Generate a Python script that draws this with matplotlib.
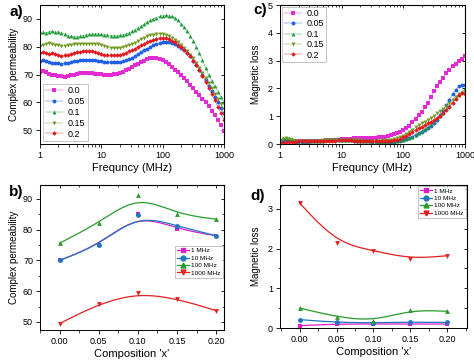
import numpy as np
import matplotlib
matplotlib.use('Agg')
import matplotlib.pyplot as plt
from matplotlib.ticker import MultipleLocator, NullFormatter, FormatStrFormatter

plt.rcParams['font.family'] = ['Liberation Sans', 'DejaVu Sans']

# frequency sweep (MHz), 20 points per decade
freq = 10 ** (np.arange(61) / 20)

# a) complex permeability vs frequency
perm_00 = [71.0, 71.2, 70.8, 70.2, 69.8, 69.7, 69.6, 69.3, 69.0, 69.6,
           69.8, 70.0, 70.2, 70.4, 70.5, 70.5, 70.5, 70.4, 70.3, 70.2,
           70.1, 70.0, 70.0, 70.0, 70.1, 70.3, 70.6, 71.0, 71.5, 72.1,
           72.7, 73.3, 73.9, 74.5, 75.0, 75.5, 75.9, 76.1, 76.0, 75.7,
           75.2, 74.5, 73.7, 72.8, 71.8, 70.8, 69.7, 68.6, 67.5, 66.3,
           65.0, 63.8, 62.6, 61.3, 60.0, 58.6, 57.0, 55.3, 53.6, 51.7, 49.8]
perm_005 = [75.0, 75.2, 74.8, 74.5, 74.3, 74.2, 74.0, 73.9, 74.0, 74.2,
            74.5, 74.8, 75.0, 75.2, 75.3, 75.3, 75.3, 75.3, 75.1, 74.9,
            74.7, 74.5, 74.4, 74.4, 74.4, 74.5, 74.6, 74.8, 75.1, 75.5,
            76.0, 76.6, 77.3, 78.0, 78.7, 79.3, 79.9, 80.5, 81.0, 81.4,
            81.7, 81.8, 81.7, 81.4, 80.9, 80.3, 79.6, 78.7, 77.7, 76.6,
            75.0, 73.4, 71.7, 69.9, 68.0, 66.0, 64.0, 62.0, 60.0, 58.0, 56.0]
perm_01 = [85.2, 85.3, 85.0, 85.4, 85.6, 85.2, 85.4, 85.0, 84.5, 84.0,
           83.7, 83.5, 83.6, 83.8, 84.0, 84.3, 84.5, 84.6, 84.6, 84.6,
           84.5, 84.4, 84.2, 84.0, 84.0, 84.0, 84.1, 84.3, 84.6, 85.0,
           85.5, 86.1, 86.8, 87.5, 88.2, 88.9, 89.5, 90.0, 90.5, 90.9,
           91.2, 91.3, 91.2, 90.9, 90.4, 89.5, 88.3, 87.0, 85.5, 83.9,
           82.1, 80.0, 77.7, 75.2, 72.5, 70.0, 67.8, 65.8, 63.9, 62.0, 60.0]
perm_015 = [80.3, 80.6, 81.0, 81.3, 81.0, 80.7, 80.5, 80.3, 80.3, 80.5,
            80.7, 80.9, 81.0, 81.1, 81.1, 81.1, 81.1, 81.1, 81.0, 81.0,
            80.8, 80.4, 80.0, 79.7, 79.5, 79.5, 79.6, 79.8, 80.1, 80.5,
            81.0, 81.5, 82.1, 82.7, 83.2, 83.7, 84.1, 84.4, 84.6, 84.7,
            84.6, 84.3, 83.9, 83.3, 82.6, 81.7, 80.7, 79.6, 78.4, 77.1,
            75.8, 74.2, 72.5, 70.7, 68.8, 66.9, 65.0, 63.1, 61.2, 59.4, 57.6]
perm_02 = [77.8, 78.0, 77.8, 77.5, 77.6, 77.3, 77.0, 76.8, 76.9, 77.2,
           77.5, 77.8, 78.0, 78.2, 78.3, 78.4, 78.4, 78.3, 78.1, 77.8,
           77.5, 77.2, 77.0, 76.9, 76.9, 77.0, 77.2, 77.5, 77.9, 78.3,
           78.8, 79.3, 79.9, 80.5, 81.1, 81.7, 82.2, 82.6, 82.9, 83.1,
           83.1, 83.0, 82.7, 82.2, 81.6, 80.8, 79.9, 78.9, 77.8, 76.6,
           75.0, 73.4, 71.6, 69.6, 67.4, 65.2, 63.0, 60.7, 58.5, 56.2, 53.8]

# c) magnetic loss vs frequency
loss_00 = [0.08, 0.1, 0.1, 0.1, 0.1, 0.1, 0.1, 0.1, 0.1, 0.1,
           0.1, 0.11, 0.11, 0.12, 0.12, 0.13, 0.14, 0.15, 0.15, 0.16,
           0.17, 0.18, 0.18, 0.19, 0.2, 0.2, 0.21, 0.21, 0.22, 0.22,
           0.22, 0.23, 0.24, 0.25, 0.27, 0.29, 0.32, 0.35, 0.38, 0.43,
           0.49, 0.57, 0.66, 0.78, 0.91, 1.05, 1.17, 1.32, 1.47, 1.7,
           1.9, 2.07, 2.23, 2.39, 2.54, 2.67, 2.79, 2.89, 2.98, 3.07, 3.15]
loss_005 = [0.12, 0.15, 0.14, 0.12, 0.1, 0.09, 0.08, 0.08, 0.08, 0.09,
            0.1, 0.1, 0.11, 0.12, 0.12, 0.13, 0.13, 0.14, 0.14, 0.14,
            0.14, 0.14, 0.13, 0.13, 0.12, 0.12, 0.11, 0.11, 0.1, 0.1,
            0.09, 0.09, 0.08, 0.08, 0.08, 0.08, 0.09, 0.09, 0.1, 0.12,
            0.15, 0.18, 0.22, 0.27, 0.32, 0.38, 0.44, 0.51, 0.58, 0.66,
            0.76, 0.88, 1.03, 1.2, 1.4, 1.6, 1.8, 1.96, 2.08, 2.13, 2.13]
loss_01 = [0.15, 0.2, 0.22, 0.2, 0.18, 0.15, 0.12, 0.1, 0.1, 0.1,
           0.1, 0.1, 0.11, 0.12, 0.12, 0.13, 0.14, 0.14, 0.15, 0.15,
           0.15, 0.15, 0.14, 0.14, 0.13, 0.12, 0.12, 0.11, 0.1, 0.1,
           0.1, 0.09, 0.09, 0.09, 0.09, 0.09, 0.1, 0.1, 0.11, 0.13,
           0.15, 0.18, 0.22, 0.27, 0.33, 0.4, 0.47, 0.55, 0.63, 0.72,
           0.82, 0.92, 1.02, 1.13, 1.25, 1.38, 1.52, 1.65, 1.78, 1.88, 1.97]
loss_015 = [0.12, 0.18, 0.2, 0.18, 0.15, 0.12, 0.1, 0.1, 0.1, 0.1,
            0.11, 0.11, 0.12, 0.12, 0.13, 0.13, 0.14, 0.14, 0.15, 0.15,
            0.15, 0.15, 0.15, 0.14, 0.14, 0.13, 0.13, 0.12, 0.12, 0.12,
            0.12, 0.12, 0.12, 0.13, 0.13, 0.14, 0.16, 0.18, 0.21, 0.25,
            0.3, 0.37, 0.44, 0.52, 0.6, 0.67, 0.74, 0.81, 0.88, 0.95,
            1.02, 1.1, 1.18, 1.27, 1.37, 1.48, 1.6, 1.71, 1.8, 1.84, 1.82]
loss_02 = [0.05, 0.05, 0.06, 0.07, 0.08, 0.09, 0.1, 0.1, 0.1, 0.1,
           0.1, 0.1, 0.1, 0.1, 0.11, 0.11, 0.12, 0.12, 0.12, 0.13,
           0.13, 0.13, 0.13, 0.13, 0.12, 0.12, 0.12, 0.11, 0.11, 0.11,
           0.1, 0.1, 0.1, 0.1, 0.1, 0.11, 0.12, 0.13, 0.15, 0.19,
           0.25, 0.3, 0.36, 0.43, 0.5, 0.57, 0.63, 0.69, 0.75, 0.81,
           0.87, 0.94, 1.02, 1.12, 1.23, 1.35, 1.48, 1.62, 1.75, 1.83, 1.8]

# b) / d) values vs composition
comp = [0.00, 0.05, 0.10, 0.15, 0.20]
perm_1 = [70.0, 75.0, 85.1, 80.2, 78.0]
perm_10 = [70.0, 74.9, 84.9, 81.2, 78.0]
perm_100 = [75.6, 82.1, 91.3, 85.0, 83.4]
perm_1000 = [49.5, 55.9, 59.4, 57.6, 53.7]
loss_1 = [0.06, 0.10, 0.10, 0.10, 0.10]
loss_10 = [0.21, 0.14, 0.13, 0.15, 0.14]
loss_100 = [0.50, 0.28, 0.17, 0.46, 0.42]
loss_1000 = [3.14, 2.14, 1.95, 1.74, 1.82]

comp_labels = ['0.0', '0.05', '0.1', '0.15', '0.2']
freq_labels = ['1 MHz', '10 MHz', '100 MHz', '1000 MHz']

col_a = ['#e22bd2', '#1d5fe6', '#1f9a3a', '#6f9a1f', '#e8141c']
mk_a = ['s', 'o', '^', 'v', 'D']
col_b = ['#d81fc8', '#1f77bf', '#2a9a2a', '#e32020']
mk_b = ['s', 'o', '^', 'v']


def bspline(xs, ys, n=40):
    # smooth cubic B-spline through end points, data used as control points
    px = np.r_[xs[0], xs[0], xs, xs[-1], xs[-1]]
    py = np.r_[ys[0], ys[0], ys, ys[-1], ys[-1]]
    t = np.linspace(0, 1, n)
    b0 = (1 - t) ** 3 / 6
    b1 = (3 * t ** 3 - 6 * t ** 2 + 4) / 6
    b2 = (-3 * t ** 3 + 3 * t ** 2 + 3 * t + 1) / 6
    b3 = t ** 3 / 6
    cx, cy = [], []
    for i in range(len(px) - 3):
        cx.append(b0 * px[i] + b1 * px[i + 1] + b2 * px[i + 2] + b3 * px[i + 3])
        cy.append(b0 * py[i] + b1 * py[i + 1] + b2 * py[i + 2] + b3 * py[i + 3])
    return np.concatenate(cx), np.concatenate(cy)


def style_axes(ax):
    ax.tick_params(which='both', direction='out', top=False, right=False, labelsize=6.5, pad=2)
    ax.tick_params(which='major', length=3, width=0.6)
    ax.tick_params(which='minor', length=1.8, width=0.5)
    for s in ax.spines.values():
        s.set_linewidth(0.7)
    # mirrored inward ticks on top / right
    sec_x = ax.secondary_xaxis('top')
    sec_y = ax.secondary_yaxis('right')
    for sec in (sec_x, sec_y):
        sec.tick_params(which='both', direction='in', labelsize=0)
        sec.tick_params(which='major', length=2.5, width=0.6)
        sec.tick_params(which='minor', length=1.5, width=0.5)
    return sec_x, sec_y


def small_legend(ax, fs, **kw):
    leg = ax.legend(fontsize=fs, frameon=True, fancybox=False, edgecolor='#999999', **kw)
    leg.get_frame().set_linewidth(0.5)


fig = plt.figure(figsize=(4.74, 3.61), dpi=100)
ax_a = fig.add_axes([0.0844, 0.601, 0.388, 0.385])
ax_c = fig.add_axes([0.5907, 0.601, 0.390, 0.385])
ax_b = fig.add_axes([0.0844, 0.0859, 0.388, 0.4017])
ax_d = fig.add_axes([0.5907, 0.0914, 0.3945, 0.396])

log_minor = [m * 10 ** e for e in range(3) for m in range(2, 10)]

# panel a
for ys, c, m, lab in zip([perm_00, perm_005, perm_01, perm_015, perm_02], col_a, mk_a, comp_labels):
    ax_a.plot(freq, ys, color=c, marker=m, ms=2.8 if m != 'D' else 2.3, lw=0.3,
              markeredgewidth=0, label=lab)
ax_a.set_xscale('log')
ax_a.set_xlim(1, 1000)
ax_a.set_ylim(45, 95)
ax_a.yaxis.set_major_locator(MultipleLocator(10))
ax_a.set_xticks([1, 10, 100, 1000])
ax_a.set_xticklabels(['1', '10', '100', '1000'])
ax_a.set_xlabel('Frequncy (MHz)', fontsize=8, labelpad=2)
ax_a.set_ylabel('Complex permeability', fontsize=7, labelpad=3)
small_legend(ax_a, 6.5, loc='lower left', handlelength=2.0, handletextpad=0.5,
             labelspacing=0.2, borderpad=0.3, borderaxespad=0.3)

# panel c
for ys, c, m, lab in zip([loss_00, loss_005, loss_01, loss_015, loss_02], col_a, mk_a, comp_labels):
    ax_c.plot(freq, ys, color=c, marker=m, ms=2.8 if m != 'D' else 2.3, lw=0.3,
              markeredgewidth=0, label=lab)
ax_c.set_xscale('log')
ax_c.set_xlim(1, 1000)
ax_c.set_ylim(0, 5)
ax_c.yaxis.set_major_locator(MultipleLocator(1))
ax_c.set_xticks([1, 10, 100, 1000])
ax_c.set_xticklabels(['1', '10', '100', '1000'])
ax_c.set_xlabel('Frequncy (MHz)', fontsize=8, labelpad=2)
ax_c.set_ylabel('Magnetic loss', fontsize=7, labelpad=5)
small_legend(ax_c, 6.5, loc='upper left', handlelength=2.0, handletextpad=0.5,
             labelspacing=0.15, borderpad=0.25, borderaxespad=0.2)

# panel b
for ys, c, m, lab in zip([perm_1, perm_10, perm_100, perm_1000], col_b, mk_b, freq_labels):
    cx, cy = bspline(comp, ys)
    ax_b.plot(cx, cy, color=c, lw=0.9)
    ax_b.plot(comp, ys, ls='none', color=c, marker=m, ms=3.5, markeredgewidth=0)
    ax_b.plot([], [], color=c, marker=m, ms=3.5, lw=0.9, label=lab)
ax_b.set_xlim(-0.025, 0.21)
ax_b.set_ylim(47.4, 94.5)
ax_b.xaxis.set_major_locator(MultipleLocator(0.05))
ax_b.xaxis.set_minor_locator(MultipleLocator(0.025))
ax_b.yaxis.set_major_locator(MultipleLocator(10))
ax_b.yaxis.set_minor_locator(MultipleLocator(5))
ax_b.xaxis.set_major_formatter(FormatStrFormatter('%.2f'))
ax_b.set_xlabel("Composition 'x'", fontsize=8, labelpad=2)
ax_b.set_ylabel('Complex permeability', fontsize=7, labelpad=3)
small_legend(ax_b, 4.6, loc='center right', bbox_to_anchor=(1.0, 0.47), handlelength=2.0,
             handletextpad=0.3, labelspacing=0.3, borderpad=0.3, borderaxespad=0.2)

# panel d
for ys, c, m, lab in zip([loss_1, loss_10, loss_100, loss_1000], col_b, mk_b, freq_labels):
    cx, cy = bspline(comp, ys)
    ax_d.plot(cx, cy, color=c, lw=0.9)
    ax_d.plot(comp, ys, ls='none', color=c, marker=m, ms=3.5, markeredgewidth=0)
    ax_d.plot([], [], color=c, marker=m, ms=3.5, lw=0.9, label=lab)
ax_d.set_xlim(-0.027, 0.227)
ax_d.set_ylim(0, 3.6)
ax_d.xaxis.set_major_locator(MultipleLocator(0.05))
ax_d.xaxis.set_minor_locator(MultipleLocator(0.025))
ax_d.yaxis.set_major_locator(MultipleLocator(1))
ax_d.yaxis.set_minor_locator(MultipleLocator(0.5))
ax_d.xaxis.set_major_formatter(FormatStrFormatter('%.2f'))
ax_d.set_xlabel("Composition 'x'", fontsize=8, labelpad=2)
ax_d.set_ylabel('Magnetic loss', fontsize=7, labelpad=5)
small_legend(ax_d, 4.6, loc='upper right', handlelength=2.0, handletextpad=0.3,
             labelspacing=0.3, borderpad=0.3, borderaxespad=0.2)

for ax in (ax_a, ax_c, ax_b, ax_d):
    sx, sy = style_axes(ax)
    sx.set_xticks(ax.get_xticks())
    sx.xaxis.set_major_formatter(NullFormatter())
    sy.yaxis.set_major_formatter(NullFormatter())
    if ax in (ax_a, ax_c):
        sx.set_xticks(log_minor, minor=True)
        sx.xaxis.set_minor_formatter(NullFormatter())
    else:
        sx.xaxis.set_minor_locator(MultipleLocator(0.025))
        sy.yaxis.set_minor_locator(ax.yaxis.get_minor_locator())

fig.text(0.034, 0.968, 'a)', fontsize=11, fontweight='bold', ha='center', va='center')
fig.text(0.549, 0.972, 'c)', fontsize=11, fontweight='bold', ha='center', va='center')
fig.text(0.034, 0.468, 'b)', fontsize=11, fontweight='bold', ha='center', va='center')
fig.text(0.543, 0.458, 'd)', fontsize=11, fontweight='bold', ha='center', va='center')

fig.savefig('out.png', dpi=100)
